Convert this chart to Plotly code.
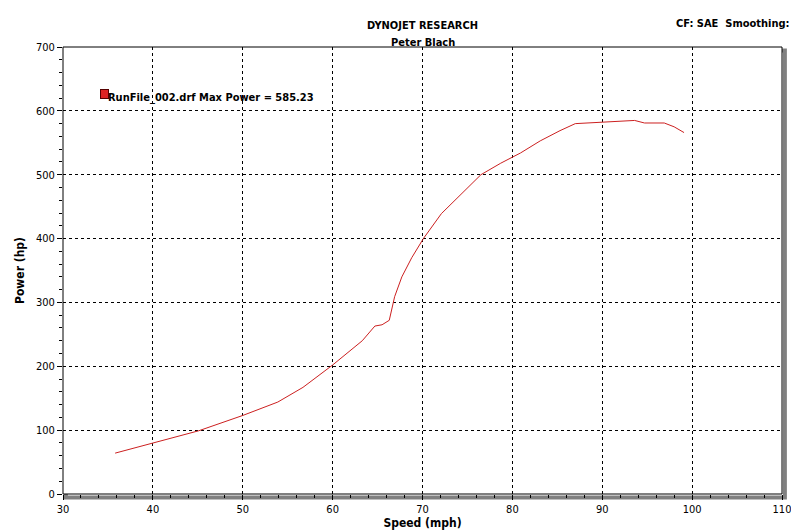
import plotly.graph_objects as go

speed = [35.8, 40.0, 45.1, 50.0, 53.9, 56.7, 60.0, 63.3, 64.7, 65.5, 66.3, 66.9, 67.7, 68.8, 70.1,
         72.1, 74.3, 76.5, 78.7, 80.9, 83.1, 85.3, 87.0, 89.7, 91.9, 93.6, 94.7, 96.9, 98.0, 99.1]
power = [64, 80, 99, 123, 144, 167, 202, 240, 263, 265, 272, 309, 340, 370, 400,
         439, 470, 500, 518, 534, 553, 569, 580, 582, 584, 585, 581, 581, 575, 566]

F = "DejaVu Sans Condensed, DejaVu Sans"
fig = go.Figure()
fig.add_trace(go.Scatter(x=speed, y=power, mode="lines", line=dict(color="#cc2020", width=1),
                         showlegend=False))
ax = dict(showline=False, zeroline=False, ticks="outside", ticklen=5, tickcolor="black",
          showgrid=True, gridcolor="black", griddash="3px,3px", gridwidth=0.7,
          tickfont=dict(family=F, size=11, color="black"),
          minor=dict(ticks="outside", ticklen=3, tickcolor="black", showgrid=False))
fig.update_xaxes(range=[30, 110], dtick=10, minor_dtick=2,
                 title=dict(text="<b>Speed (mph)</b>", font=dict(family=F, size=12, color="black"), standoff=2), **ax)
fig.update_yaxes(range=[0, 700], dtick=100, minor_dtick=20,
                 title=dict(text="<b>Power (hp)</b>", font=dict(family=F, size=12, color="black"), standoff=8), **ax)
fig.update_layout(
    width=799, height=531, margin=dict(l=48, r=25, t=39, b=34),
    paper_bgcolor="white", plot_bgcolor="white", font=dict(family=F, color="black"),
    shapes=[dict(type="rect", xref="paper", yref="paper", x0=0.004, y0=-0.008, x1=1.004, y1=0.992,
                 line=dict(color="#808080", width=4), layer="below"),
            dict(type="rect", xref="paper", yref="paper", x0=0, y0=0, x1=1, y1=1,
                 line=dict(color="black", width=1), fillcolor="white", layer="below")],
    annotations=[
        dict(text="<b>DYNOJET RESEARCH</b>", x=0.5, y=1, xref="paper", yref="paper", yshift=30,
             showarrow=False, font=dict(family=F, size=11, color="black")),
        dict(text="<b>Peter Blach</b>", x=0.5, y=1, xref="paper", yref="paper", yshift=13,
             showarrow=False, font=dict(family=F, size=11, color="black")),
        dict(text="<b>CF: SAE  Smoothing: 0</b>", x=1, y=1, xref="paper", yref="paper",
             xanchor="right", xshift=20, yshift=32, showarrow=False, font=dict(family=F, size=11, color="black")),
        dict(text="<b>RunFile_002.drf Max Power = 585.23</b>", x=0.06, y=0.905, xref="paper",
             yref="paper", xanchor="left", showarrow=False, font=dict(family=F, size=11, color="black")),
        dict(text="", x=0.052, y=0.905, xref="paper", yref="paper", showarrow=False,
             width=5, height=6, bgcolor="#dd2222", bordercolor="#550000", borderwidth=1),
    ],
)
fig.write_html("out.html")
